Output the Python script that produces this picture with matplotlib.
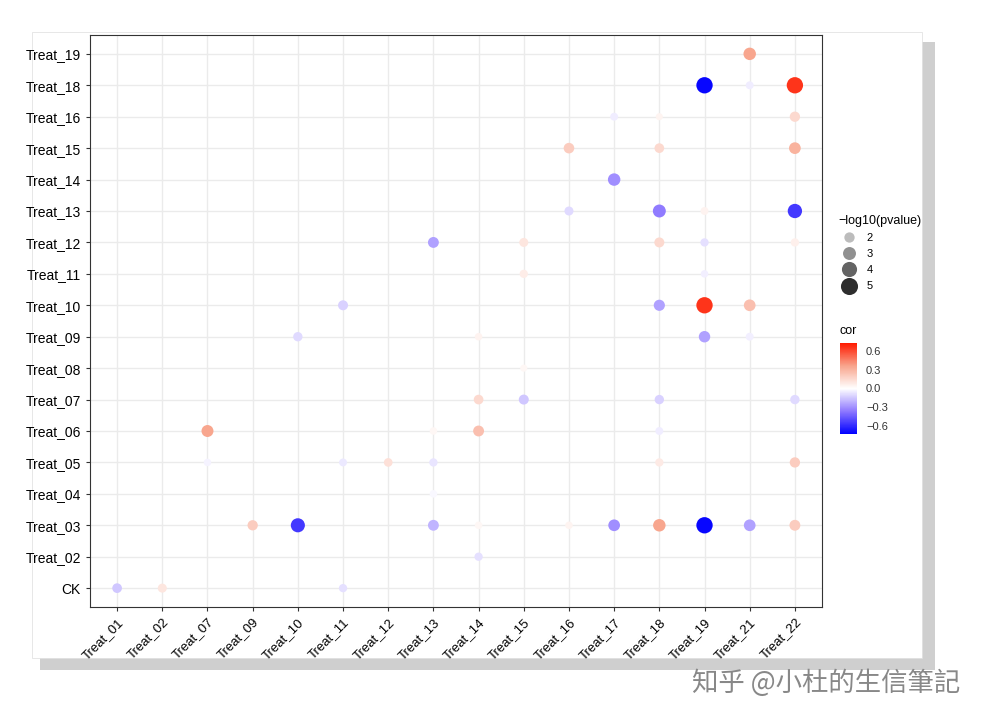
import matplotlib
matplotlib.use("Agg")
import matplotlib.pyplot as plt
from matplotlib.colors import LinearSegmentedColormap, Normalize
from matplotlib.patches import Rectangle
from matplotlib.lines import Line2D
import numpy as np

plt.rcParams['font.family'] = ['Liberation Sans', 'Noto Sans CJK SC', 'DejaVu Sans']

x_cats = ["Treat_01","Treat_02","Treat_07","Treat_09","Treat_10","Treat_11","Treat_12","Treat_13",
          "Treat_14","Treat_15","Treat_16","Treat_17","Treat_18","Treat_19","Treat_21","Treat_22"]
y_cats = ["CK","Treat_02","Treat_03","Treat_04","Treat_05","Treat_06","Treat_07","Treat_08","Treat_09",
          "Treat_10","Treat_11","Treat_12","Treat_13","Treat_14","Treat_15","Treat_16","Treat_18","Treat_19"]

pt_x = ["Treat_01","Treat_02","Treat_11",
        "Treat_14",
        "Treat_09","Treat_10","Treat_13","Treat_14","Treat_16","Treat_17","Treat_18","Treat_19","Treat_21","Treat_22",
        "Treat_13",
        "Treat_07","Treat_11","Treat_12","Treat_13","Treat_18","Treat_22",
        "Treat_07","Treat_13","Treat_14","Treat_18",
        "Treat_14","Treat_15","Treat_18","Treat_22",
        "Treat_15",
        "Treat_10","Treat_14","Treat_19","Treat_21",
        "Treat_11","Treat_18","Treat_19","Treat_21",
        "Treat_15","Treat_19",
        "Treat_13","Treat_15","Treat_18","Treat_19","Treat_22",
        "Treat_16","Treat_18","Treat_19","Treat_22",
        "Treat_17",
        "Treat_16","Treat_18","Treat_22",
        "Treat_17","Treat_18","Treat_22",
        "Treat_19","Treat_21","Treat_22",
        "Treat_21"]
pt_y = (["CK"]*3 + ["Treat_02"] + ["Treat_03"]*10 + ["Treat_04"] + ["Treat_05"]*6 + ["Treat_06"]*4 +
        ["Treat_07"]*4 + ["Treat_08"] + ["Treat_09"]*4 + ["Treat_10"]*4 + ["Treat_11"]*2 + ["Treat_12"]*5 +
        ["Treat_13"]*4 + ["Treat_14"] + ["Treat_15"]*3 + ["Treat_16"]*3 + ["Treat_18"]*3 + ["Treat_19"])
cor = [-0.15,0.10,-0.08,
       -0.08,
       0.20,-0.55,-0.20,0.03,0.04,-0.30,0.35,-0.70,-0.25,0.20,
       -0.02,
       -0.03,-0.06,0.12,-0.07,0.08,0.20,
       0.35,0.03,0.25,-0.05,
       0.15,-0.15,-0.12,-0.10,
       0.03,
       -0.10,0.05,-0.25,-0.04,
       -0.12,-0.25,0.65,0.25,
       0.07,-0.04,
       -0.25,0.10,0.15,-0.08,0.06,
       -0.10,-0.35,0.05,-0.55,
       -0.30,
       0.20,0.15,0.30,
       -0.05,0.04,0.15,
       -0.70,-0.05,0.65,
       0.35]
logp = [1.8,1.6,1.4,
        1.4,
        2.0,3.5,2.2,1.2,1.2,2.5,2.8,4.6,2.5,2.2,
        1.2,
        1.2,1.3,1.5,1.4,1.4,2.0,
        2.6,1.2,2.2,1.3,
        1.8,1.9,1.7,1.7,
        1.1,
        1.7,1.2,2.4,1.3,
        1.9,2.3,4.6,2.5,
        1.4,1.2,
        2.2,1.6,1.9,1.4,1.4,
        1.6,3.0,1.3,3.6,
        2.8,
        2.1,1.8,2.5,
        1.3,1.1,2.0,
        4.6,1.3,4.6,
        2.8]

def sz(v):
    return 55 + (np.asarray(v) - 2) * 32

fig = plt.figure(figsize=(9.88, 7.24), dpi=100)
fig.patch.set_facecolor("white")
fig.add_artist(Rectangle((40/988, 1-670/724), 895/988, 628/724, transform=fig.transFigure,
                         facecolor="#a0a0a0", edgecolor="none", alpha=0.5, zorder=-3))
fig.add_artist(Rectangle((32/988, 1-658/724), 890/988, 626/724, transform=fig.transFigure,
                         facecolor="white", edgecolor="#dddddd", lw=0.5, zorder=-2))

ax = fig.add_axes([90/988, 1-607/724, 732/988, 572/724])
cmap = LinearSegmentedColormap.from_list("gr2", [(0, "#0000ff"), (0.25, "#8e78ff"), (0.5, "#ffffff"),
                                                  (0.75, "#f8a48c"), (1, "#ff1a00")])
norm = Normalize(-0.72, 0.72)
xi = [x_cats.index(v) for v in pt_x]
yi = [y_cats.index(v) for v in pt_y]
sc = ax.scatter(xi, yi, s=sz(logp), c=cor, cmap=cmap, norm=norm, edgecolors="none", zorder=3)
ax.set_xticks(range(len(x_cats)))
ax.set_xticklabels(x_cats, rotation=45, ha="right", rotation_mode="anchor", fontsize=9.5)
ax.set_yticks(range(len(y_cats)))
ax.set_yticklabels(y_cats, fontsize=10)
ax.set_xlim(-0.6, len(x_cats) - 0.4)
ax.set_ylim(-0.6, len(y_cats) - 0.4)
ax.grid(True, color="#ebebeb", lw=1)
ax.set_axisbelow(True)
for s in ax.spines.values():
    s.set_color("#333333"); s.set_linewidth(0.8)
ax.tick_params(length=3, color="#333333")

handles = [Line2D([], [], ls="", marker="o", color="#222222", alpha=a,
                  markersize=np.sqrt(sz(v)), markeredgewidth=0) for v, a in zip([2,3,4,5],[0.3,0.5,0.7,0.95])]
leg = fig.legend(handles, ["2","3","4","5"], title="\u2212log10(pvalue)", loc="upper left",
                 bbox_to_anchor=(828/988, 1-205/724), frameon=False, fontsize=8, title_fontsize=9,
                 labelspacing=0.55, handletextpad=0.6, alignment="left")

cax = fig.add_axes([840/988, 1-434/724, 17/988, 91/724])
cb = fig.colorbar(sc, cax=cax, ticks=[-0.6,-0.3,0,0.3,0.6])
cb.ax.set_yticklabels(["\u22120.6","\u22120.3","0.0","0.3","0.6"])
cb.ax.tick_params(labelsize=8, length=3, color="white", labelcolor="#333333")
cb.outline.set_visible(False)
fig.text(839/988, 1-331/724, "cor", fontsize=9, va="center")

fig.text(960/988, 1-683/724, "知乎 @小杜的生信筆記", fontsize=19, color="#888888", ha="right", va="center",
         family=["Noto Sans CJK SC", "DejaVu Sans"])

fig.savefig("out.png", dpi=100)
